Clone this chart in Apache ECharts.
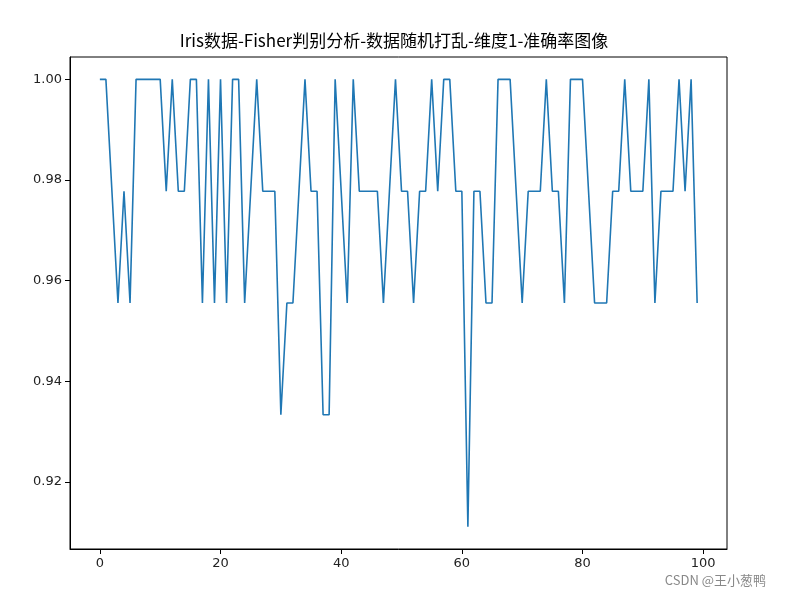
<!DOCTYPE html>
<html>
<head>
<meta charset="utf-8">
<title>Iris Fisher</title>
<script src="https://cdn.jsdelivr.net/npm/echarts@6/dist/echarts.min.js"></script>
<style>
	body { margin: 0; background: #fff; }
	#chart { width: 788px; height: 600px; }
	#mark { position: absolute; right: 22px; top: 570px; font: 13px "Noto Sans CJK SC"; color: #888; }
</style>
</head>
<body>
<div id="chart"></div>
<div id="mark">CSDN @王小葱鸭</div>
<script>
	var A = 1.0, B = 44 / 45, C = 43 / 45, D = 42 / 45, E = 41 / 45;
	// accuracy per run
	var accuracy = [
		A, A, B, C, B, C, A, A, A, A,
		A, B, A, B, B, A, A, C, A, C,
		A, C, A, A, C, B, A, B, B, B,
		D, C, C, B, A, B, B, D, D, A,
		B, C, A, B, B, B, B, C, B, A,
		B, B, C, B, B, A, B, A, A, B,
		B, E, B, B, C, C, A, A, A, B,
		C, B, B, B, A, B, B, C, A, A,
		A, B, C, C, C, B, B, A, B, B,
		B, A, C, B, B, B, A, B, A, C
	];
	var xTicks = [0, 20, 40, 60, 80, 100];
	var yTicks = [0.92, 0.94, 0.96, 0.98, 1.00];

	var points = [];
	for (var i = 0; i < accuracy.length; i++)
		points.push([i, accuracy[i]]);

	var chart = echarts.init(document.getElementById('chart'));
	var axisCommon = {
		axisLine: { show: true, onZero: false, lineStyle: { color: '#000', width: 1 } },
		axisTick: { show: true, inside: false, length: 5, lineStyle: { color: '#000' } },
		splitLine: { show: false },
		axisLabel: { color: '#222', fontSize: 13, fontFamily: 'DejaVu Sans' }
	};
	chart.setOption({
		animation: false,
		title: {
			text: 'Iris数据-Fisher判别分析-数据随机打乱-维度1-准确率图像',
			left: 'center', top: 27,
			textStyle: { fontSize: 17, fontWeight: 'normal', color: '#000', fontFamily: 'Noto Sans CJK SC' }
		},
		grid: { left: 70, top: 57, width: 657, height: 492, show: true, borderColor: '#000', borderWidth: 1 },
		xAxis: echarts.util.merge({
			type: 'value', min: -4.95, max: 103.95,
			axisTick: { customValues: xTicks },
			axisLabel: { customValues: xTicks, margin: 8 }
		}, axisCommon),
		yAxis: echarts.util.merge({
			type: 'value', min: 0.906667, max: 1.004444,
			axisTick: { customValues: yTicks },
			axisLabel: { customValues: yTicks, margin: 8, formatter: function (v) { return v.toFixed(2); } }
		}, axisCommon),
		series: [{
			type: 'line', data: points, showSymbol: false,
			lineStyle: { color: '#1f77b4', width: 1.6 }
		}]
	});
</script>
</body>
</html>
